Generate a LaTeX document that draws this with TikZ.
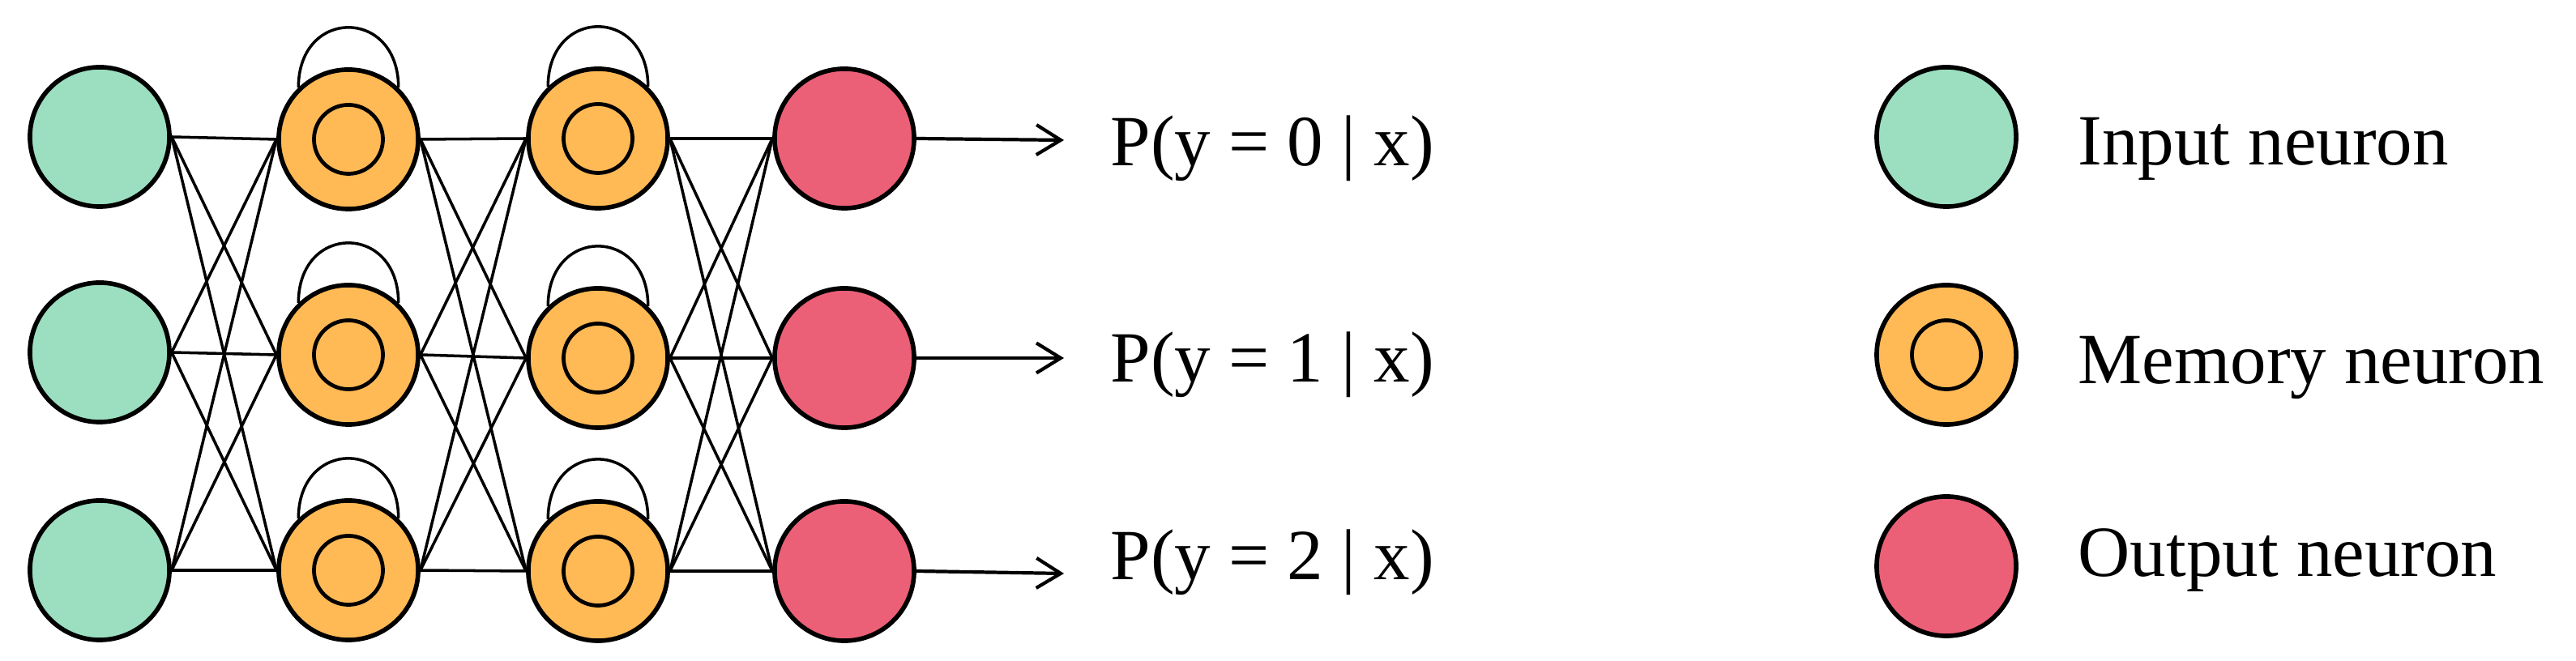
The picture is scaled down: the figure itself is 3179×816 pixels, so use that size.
\documentclass[tikz,border=0pt]{standalone}
\usepackage{fontspec}
\setmainfont{Liberation Serif}
\usetikzlibrary{arrows.meta}
\definecolor{ingreen}{RGB}{155,223,192}
\definecolor{memorange}{RGB}{255,185,85}
\definecolor{outred}{RGB}{236,96,119}
\begin{document}
\begin{tikzpicture}[x=0.01cm,y=0.01cm,
  neuron/.style={circle, draw=black, line width=1.6pt, minimum size=1.72cm, inner sep=0pt},
  inneuron/.style={neuron, fill=ingreen},
  memneuron/.style={neuron, fill=memorange},
  outneuron/.style={neuron, fill=outred},
  core/.style={circle, draw=black, line width=1.35pt, minimum size=0.85cm, inner sep=0pt},
  link/.style={line width=1pt},
  selfloop/.style={line width=1pt},
  outarrow/.style={line width=1.2pt, -{Straight Barb[length=0.3cm, width=0.37cm, line width=1.2pt]}},
  lbl/.style={font=\fontsize{25.3}{30}\selectfont, anchor=base west, inner sep=0pt}
]
\useasboundingbox (0,0) rectangle (3179,816);

% input layer
\node[inneuron] (in1) at (123,647) {};
\node[inneuron] (in2) at (123,381) {};
\node[inneuron] (in3) at (123,112) {};
% memory layer 1
\node[memneuron] (m11) at (430,644) {};
\node[memneuron] (m12) at (430,378) {};
\node[memneuron] (m13) at (430,112) {};
% memory layer 2
\node[memneuron] (m21) at (738,645) {};
\node[memneuron] (m22) at (738,374) {};
\node[memneuron] (m23) at (738,111) {};
% output layer
\node[outneuron] (o1) at (1042,645) {};
\node[outneuron] (o2) at (1042,374) {};
\node[outneuron] (o3) at (1042,111) {};

% inner cores of memory neurons
\foreach \m in {m11,m12,m13,m21,m22,m23}{
  \node[core] (\m c) at (\m) {};
}

% self loops
\foreach \m in {m11,m12,m13,m21,m22,m23}{
  \draw[selfloop] (\m.134) .. controls +(0,99) and +(0,99) .. (\m.46);
}

% full connections
\foreach \a in {in1,in2,in3}{
  \foreach \b in {m11,m12,m13}{
    \draw[link] (\a.east) -- (\b.west);
  }
}
\foreach \a in {m11,m12,m13}{
  \foreach \b in {m21,m22,m23}{
    \draw[link] (\a.east) -- (\b.west);
  }
}
\foreach \a in {m21,m22,m23}{
  \foreach \b in {o1,o2,o3}{
    \draw[link] (\a.east) -- (\b.west);
  }
}

% output arrows
\coordinate (a1) at (1313,643);
\coordinate (a2) at (1313,374);
\coordinate (a3) at (1313,108);
\draw[outarrow] (o1.east) -- (a1);
\draw[outarrow] (o2.east) -- (a2);
\draw[outarrow] (o3.east) -- (a3);

\node[lbl] (p0) at (1370,611) {P(y = 0 | x)};
\node[lbl] (p1) at (1370,344) {P(y = 1 | x)};
\node[lbl] (p2) at (1370,100) {P(y = 2 | x)};

% legend
\node[inneuron] (lg1) at (2402,647) {};
\node[memneuron] (lg2) at (2402,378) {};
\node[core] (lg2c) at (lg2) {};
\node[outneuron] (lg3) at (2402,117) {};
\node[lbl] (t1) at (2564,612) {Input neuron};
\node[lbl] (t2) at (2564,342) {Memory neuron};
\node[lbl] (t3) at (2564,104) {Output neuron};
\end{tikzpicture}
\end{document}
